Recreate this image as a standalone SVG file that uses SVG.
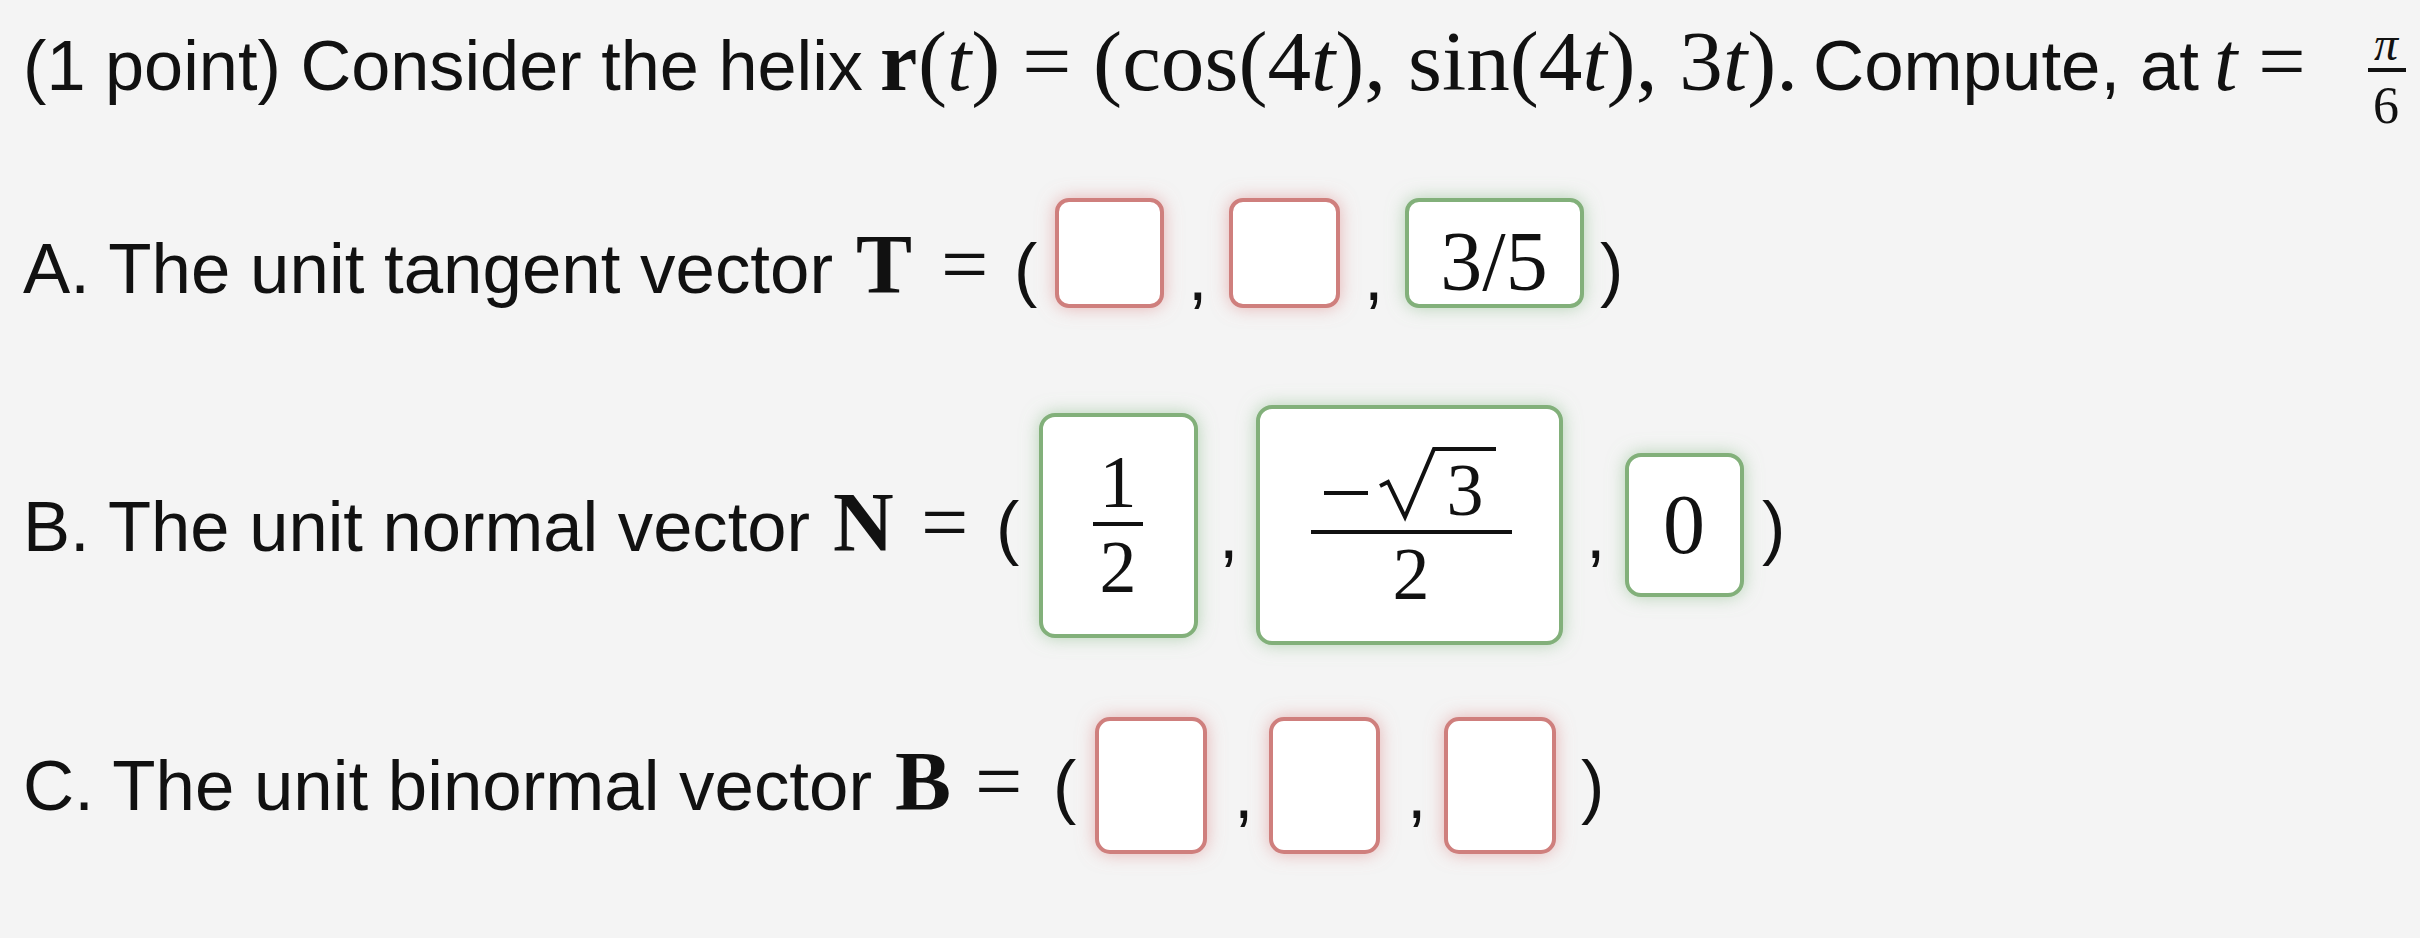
<svg xmlns="http://www.w3.org/2000/svg" width="2420" height="938" viewBox="0 0 2420 938">
<style>
.s{font-family:"Liberation Sans",Arial,sans-serif;font-size:70px;fill:#111}
.m{font-family:"Liberation Serif","Times New Roman",serif;font-size:84px;fill:#111}
.b{font-weight:bold}
.i{font-style:italic}
.red{fill:#fff;stroke:#cf7f7d;stroke-width:4;filter:url(#gr)}
.grn{fill:#fff;stroke:#82b07a;stroke-width:4;filter:url(#gg)}
.bar{stroke:#111;stroke-width:4}
</style>
<defs>
<filter id="gr" x="-50%" y="-50%" width="200%" height="200%"><feDropShadow dx="0" dy="0" stdDeviation="9" flood-color="#d88" flood-opacity="0.6"/></filter>
<filter id="gg" x="-50%" y="-50%" width="200%" height="200%"><feDropShadow dx="0" dy="0" stdDeviation="9" flood-color="#8b8" flood-opacity="0.6"/></filter>
</defs>
<rect width="2420" height="938" fill="#f4f4f4"/>
<g id="title">
<text x="23" y="90" class="s" textLength="840" lengthAdjust="spacingAndGlyphs">(1 point) Consider the helix</text>
<text x="880" y="90" class="m b">r</text>
<text x="918" y="90" class="m" textLength="880" lengthAdjust="spacingAndGlyphs">(<tspan class="i">t</tspan>) = (cos(4<tspan class="i">t</tspan>), sin(4<tspan class="i">t</tspan>), 3<tspan class="i">t</tspan>).</text>
<text x="1813" y="90" class="s" textLength="386" lengthAdjust="spacingAndGlyphs">Compute, at</text>
<text x="2214" y="90" class="m"><tspan class="i">t</tspan> =</text>
<text x="2386" y="60" class="m i" style="font-size:48px" text-anchor="middle">π</text>
<line x1="2368" y1="70" x2="2406" y2="70" class="bar" stroke-width="3"/>
<text x="2386" y="123" class="m" style="font-size:52px" text-anchor="middle">6</text>
</g>
<g id="rowA">
<text x="23" y="293" class="s" textLength="810" lengthAdjust="spacingAndGlyphs">A. The unit tangent vector</text>
<text x="856" y="293" class="m b">T</text>
<text x="941" y="293" class="m">=</text>
<text x="1014" y="293" class="s">(</text>
<rect x="1057" y="200" width="105" height="106" rx="12" class="red"/>
<text x="1188" y="300" class="s">,</text>
<rect x="1231" y="200" width="107" height="106" rx="12" class="red"/>
<text x="1364" y="300" class="s">,</text>
<rect x="1407" y="200" width="175" height="106" rx="12" class="grn"/>
<text x="1494" y="290" class="m" text-anchor="middle">3/5</text>
<text x="1600" y="293" class="s">)</text>
</g>
<g id="rowB">
<text x="23" y="551" class="s" textLength="787" lengthAdjust="spacingAndGlyphs">B. The unit normal vector</text>
<text x="833" y="551" class="m b">N</text>
<text x="921" y="551" class="m">=</text>
<text x="996" y="551" class="s">(</text>
<rect x="1041" y="415" width="155" height="221" rx="14" class="grn"/>
<text x="1118" y="507" class="m" style="font-size:74px" text-anchor="middle">1</text>
<line x1="1093" y1="524" x2="1143" y2="524" class="bar"/>
<text x="1118" y="592" class="m" style="font-size:74px" text-anchor="middle">2</text>
<text x="1219" y="558" class="s">,</text>
<rect x="1258" y="407" width="303" height="236" rx="14" class="grn"/>
<line x1="1324" y1="493" x2="1368" y2="493" class="bar"/>
<polyline points="1380,486 1388,482 1405,517 1434,449 1496,449" fill="none" stroke="#111" stroke-width="4"/>
<text x="1465" y="515" class="m" style="font-size:74px" text-anchor="middle">3</text>
<line x1="1311" y1="532" x2="1512" y2="532" class="bar"/>
<text x="1411" y="599" class="m" style="font-size:74px" text-anchor="middle">2</text>
<text x="1586" y="558" class="s">,</text>
<rect x="1627" y="455" width="115" height="140" rx="14" class="grn"/>
<text x="1684" y="553" class="m" text-anchor="middle">0</text>
<text x="1762" y="551" class="s">)</text>
</g>
<g id="rowC">
<text x="23" y="810" class="s" textLength="849" lengthAdjust="spacingAndGlyphs">C. The unit binormal vector</text>
<text x="895" y="810" class="m b">B</text>
<text x="975" y="810" class="m">=</text>
<text x="1053" y="810" class="s">(</text>
<rect x="1097" y="719" width="108" height="133" rx="13" class="red"/>
<text x="1234" y="818" class="s">,</text>
<rect x="1271" y="719" width="107" height="133" rx="13" class="red"/>
<text x="1407" y="818" class="s">,</text>
<rect x="1446" y="719" width="108" height="133" rx="13" class="red"/>
<text x="1581" y="810" class="s">)</text>
</g>
</svg>
